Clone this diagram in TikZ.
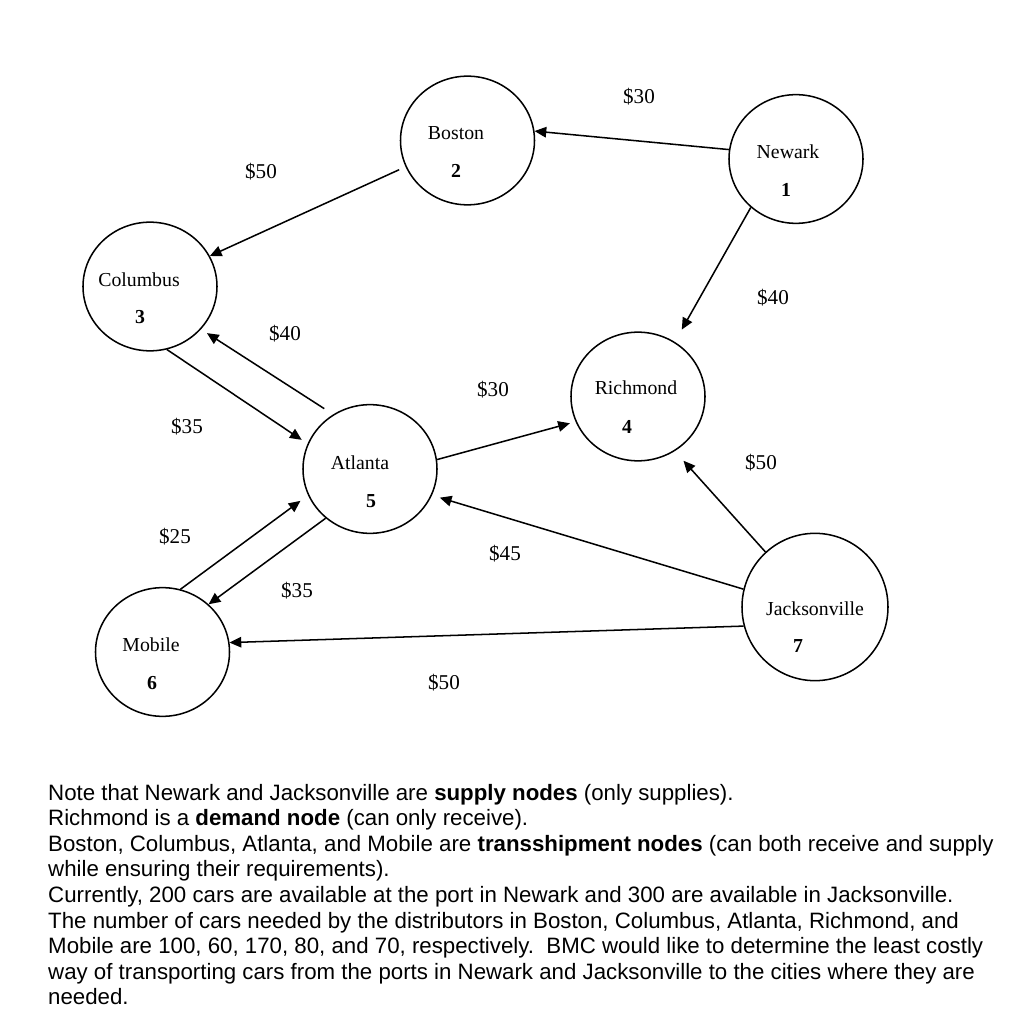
\documentclass[tikz,border=0pt]{standalone}
\usepackage{fontspec}
\setmainfont{Liberation Serif}
\newfontfamily\notefont{Liberation Sans}
\usetikzlibrary{positioning,arrows.meta,shapes.geometric}

\begin{document}
\begin{tikzpicture}
[x=0.03cm, y=-0.03cm,
    >={Triangle[length=10pt,width=9pt]},
    city/.style={ellipse, draw=black, line width=1.3pt,
    minimum width=4.02cm, minimum height=3.86cm, inner sep=0pt},
    port/.style={city, minimum width=4.38cm, minimum height=4.42cm},
    cityname/.style={font=\fontsize{16.9}{18}\selectfont, inner sep=0pt},
    citynum/.style={font=\fontsize{16.9}{18}\selectfont\bfseries, inner sep=0pt},
    cost/.style={font=\fontsize{18}{20}\selectfont, inner sep=0pt},
    route/.style={->, line width=1.3pt},
    note/.style={font=\notefont\fontsize{19}{21.8}\selectfont, align=left, inner sep=0pt},
    ]
    \useasboundingbox (0,0) rectangle (1024,1016);

    % cities
    \node[city] (nwk) at (796,159) {};
    \node[city] (bos) at (467.5,140.5) {};
    \node[city] (col) at (150,286.5) {};
    \node[city] (rich) at (638,396.5) {};
    \node[city] (atl) at (370,469) {};
    \node[city] (mob) at (162.5,652) {};
    \node[port] (jax) at (815,607) {};

    % names and numbers
    \node[cityname] (nwk-name) at (788,152) {Newark};
    \node[citynum] (nwk-num) at (786,190) {1};
    \node[cityname] (bos-name) at (456,133) {Boston};
    \node[citynum] (bos-num) at (456,171) {2};
    \node[cityname] (col-name) at (139,280) {Columbus};
    \node[citynum] (col-num) at (140,317) {3};
    \node[cityname] (rich-name) at (636,388) {Richmond};
    \node[citynum] (rich-num) at (627,427) {4};
    \node[cityname] (atl-name) at (360,463) {Atlanta};
    \node[citynum] (atl-num) at (371,501) {5};
    \node[cityname] (mob-name) at (151,645) {Mobile};
    \node[citynum] (mob-num) at (152,683) {6};
    \node[cityname] (jax-name) at (815,609) {Jacksonville};
    \node[citynum] (jax-num) at (798,646) {7};

    % routes
    \draw[route] (nwk.172) -- (bos.8);
    \draw[route, shorten <=6pt] (bos.203) -- (col.27);
    \draw[route, shorten >=12pt] (nwk.227) -- (rich.56);
    \draw[route, shorten >=6pt] (col.285) -- (atl.158);
    \draw[route, shorten <=9pt, shorten >=6pt] (atl.124) -- (col.320);
    \draw[route, shorten >=5pt] (atl.8) -- (rich.202);
    \draw[route, shorten >=8pt] (mob.74) -- (atl.203);
    \draw[route] (atl.228) -- (mob.46);
    \draw[route, shorten >=7pt] (jax.166) -- (atl.337);
    \draw[route] (jax.195) -- (mob.8);
    \draw[route, shorten >=11pt] (jax.132) -- (rich.304);

    % costs
    \node[cost] (c-nwk-bos) at (639,97) {\$30};
    \node[cost] (c-bos-col) at (261,172) {\$50};
    \node[cost] (c-nwk-rich) at (773,298) {\$40};
    \node[cost] (c-atl-col) at (285,334) {\$40};
    \node[cost] (c-atl-rich) at (493,390) {\$30};
    \node[cost] (c-col-atl) at (187,427) {\$35};
    \node[cost] (c-jax-rich) at (761,463) {\$50};
    \node[cost] (c-mob-atl) at (175,537) {\$25};
    \node[cost] (c-jax-atl) at (505,554) {\$45};
    \node[cost] (c-atl-mob) at (297,591) {\$35};
    \node[cost] (c-jax-mob) at (444,683) {\$50};

    % note below the network
    \node[note, anchor=north west] (note) at (48,784) {Note that Newark and Jacksonville are \textbf{supply nodes} (only supplies).\\
    Richmond is a \textbf{demand node} (can only receive).\\
    Boston, Columbus, Atlanta, and Mobile are \textbf{transshipment nodes} (can both receive and supply\\
    while ensuring their requirements).\\
    Currently, 200 cars are available at the port in Newark and 300 are available in Jacksonville.\\
    The number of cars needed by the distributors in Boston, Columbus, Atlanta, Richmond, and\\
    Mobile are 100, 60, 170, 80, and 70, respectively.\ \ BMC would like to determine the least costly\\
    way of transporting cars from the ports in Newark and Jacksonville to the cities where they are\\
    needed.};
\end{tikzpicture}
\end{document}
